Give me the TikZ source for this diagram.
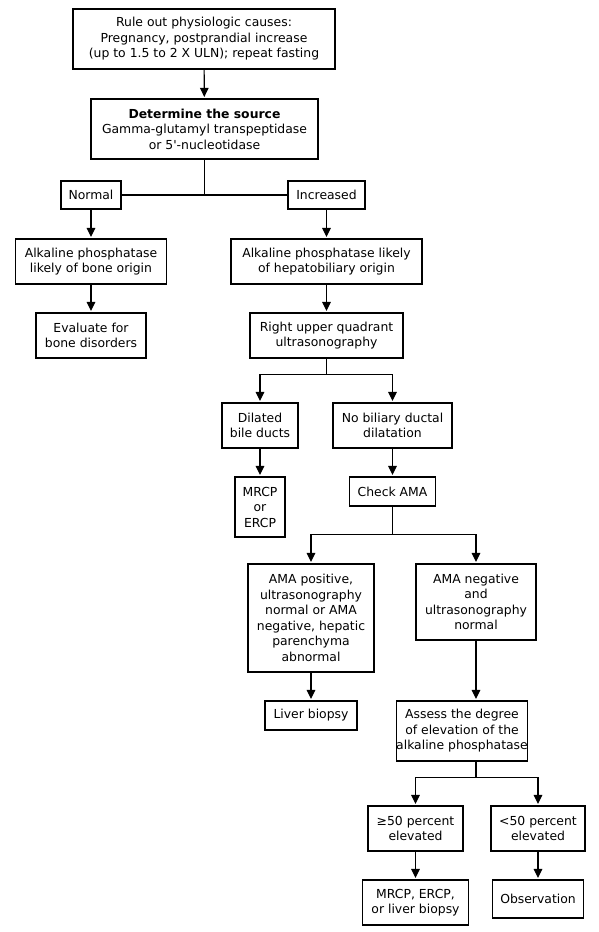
\documentclass[tikz,border=0pt]{standalone}
\usepackage{fontspec}
\setmainfont{DejaVu Sans}[Ligatures=TeXOff]
\usetikzlibrary{arrows.meta}
\begin{document}
\begin{tikzpicture}[x=1pt,y=-1pt,
  box/.style={draw, line width=1.1pt, align=center, inner sep=0pt,
    font=\fontsize{12.4}{15.5}\selectfont},
  conn/.style={line width=1.1pt},
  arr/.style={line width=1.1pt, -{Triangle[length=9pt,width=8.5pt]}, shorten >=1.5pt}]
\useasboundingbox (0,0) rectangle (599,932);
\node[box, minimum width=262pt, minimum height=60pt] (b1) at (204,39)
  {Rule out physiologic causes:\\Pregnancy, postprandial increase\\(up to 1.5 to 2 X ULN); repeat fasting};
\node[box, minimum width=227pt, minimum height=60pt] (b2) at (204.5,129)
  {{\bfseries Determine the source}\\Gamma-glutamyl transpeptidase\\or 5'-nucleotidase};
\node[box, minimum width=60pt, minimum height=28pt] (normal) at (91,195) {Normal};
\node[box, minimum width=77pt, minimum height=28pt] (incr) at (326.5,195) {Increased};
\node[box, minimum width=151pt, minimum height=45pt] (bone) at (91,261.5)
  {Alkaline phosphatase\\likely of bone origin};
\node[box, minimum width=110pt, minimum height=45pt] (eval) at (91,335.5)
  {Evaluate for\\bone disorders};
\node[box, minimum width=191pt, minimum height=45pt] (hep) at (326.5,261.5)
  {Alkaline phosphatase likely\\of hepatobiliary origin};
\node[box, minimum width=153pt, minimum height=45pt] (ruq) at (326.5,335.5)
  {Right upper quadrant\\ultrasonography};
\node[box, minimum width=76pt, minimum height=45pt] (dil) at (260,425.5)
  {Dilated\\bile ducts};
\node[box, minimum width=119pt, minimum height=45pt] (nobil) at (392.5,425.5)
  {No biliary ductal\\dilatation};
\node[box, minimum width=50pt, minimum height=60pt] (mrcpa) at (260,507)
  {MRCP\\or\\ERCP};
\node[box, minimum width=86pt, minimum height=29pt] (check) at (392.5,491.5)
  {Check AMA};
\node[box, minimum width=126pt, minimum height=108pt] (amapos) at (311,618)
  {AMA positive,\\ultrasonography\\normal or AMA\\negative, hepatic\\parenchyma\\abnormal};
\node[box, minimum width=120pt, minimum height=76pt] (amaneg) at (476,602)
  {AMA negative\\and\\ultrasonography\\normal};
\node[box, minimum width=92pt, minimum height=29pt] (liver) at (311,715.5)
  {Liver biopsy};
\node[box, minimum width=124pt, minimum height=60pt] (assess) at (462,731)
  {Assess the degree\\of elevation of the\\alkaline phosphatase};
\node[box, minimum width=95pt, minimum height=45pt] (ge) at (415.5,828.5)
  {≥50 percent\\elevated};
\node[box, minimum width=94pt, minimum height=45pt] (lt) at (538,828.5)
  {<50 percent\\elevated};
\node[box, minimum width=106pt, minimum height=45pt] (mrcpb) at (415.5,902.5)
  {MRCP, ERCP,\\or liver biopsy};
\node[box, minimum width=91pt, minimum height=38pt] (obs) at (538,899)
  {Observation};
% connectors
\draw[arr] (b1) -- (b2);
\draw[conn] (b2.south) -- (b2.south |- normal.east);
\draw[conn] (normal) -- (incr);
\draw[arr] (normal) -- (bone);
\draw[arr] (bone) -- (eval);
\draw[arr] (incr) -- (hep);
\draw[arr] (hep) -- (ruq);
\draw[arr] (ruq.south) -- ++(0,16) -| (dil.north);
\draw[arr] (ruq.south) -- ++(0,16) -| (nobil.north);
\draw[arr] (dil) -- (mrcpa);
\draw[arr] (nobil) -- (check);
\draw[arr] (check.south) -- ++(0,28) -| (amapos.north);
\draw[arr] (check.south) -- ++(0,28) -| (amaneg.north);
\draw[arr] (amapos) -- (liver);
\draw[arr] (amaneg.south) -- (amaneg.south |- assess.north);
\draw[arr] (amaneg.south |- assess.south) -- ++(0,16) -| (ge.north);
\draw[arr] (amaneg.south |- assess.south) -- ++(0,16) -| (lt.north);
\draw[arr] (ge) -- (mrcpb);
\draw[arr] (lt) -- (obs);
\end{tikzpicture}
\end{document}
